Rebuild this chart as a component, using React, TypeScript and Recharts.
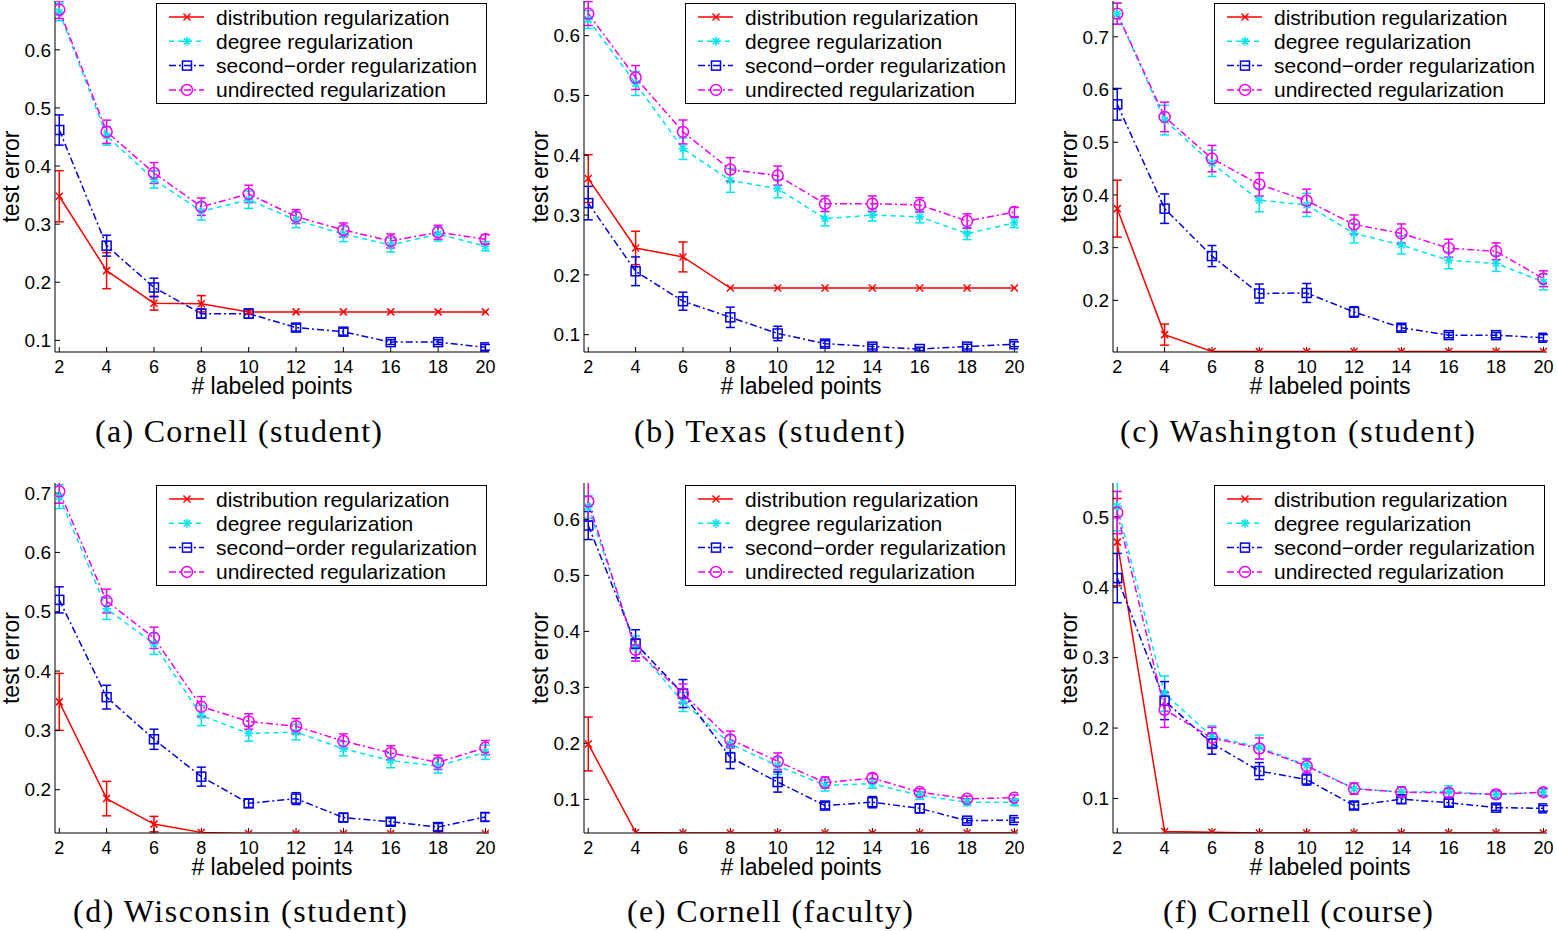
import { ErrorBar, Line, LineChart, XAxis, YAxis } from "recharts";

const labeledPoints = [2, 4, 6, 8, 10, 12, 14, 16, 18, 20];
const seriesNames = [
  "distribution regularization",
  "degree regularization",
  "second\u2212order regularization",
  "undirected regularization",
];
const captions = [
  "(a) Cornell (student)",
  "(b) Texas (student)",
  "(c) Washington (student)",
  "(d) Wisconsin (student)",
  "(e) Cornell (faculty)",
  "(f) Cornell (course)",
];

// (a) Cornell (student)
const aDist = [0.348, 0.22, 0.164, 0.163, 0.149, 0.149, 0.149, 0.149, 0.149, 0.149];
const aDistErr = [0.044, 0.031, 0.012, 0.014, 0.004, 0, 0, 0, 0, 0];
const aDeg = [0.665, 0.452, 0.377, 0.322, 0.342, 0.307, 0.283, 0.264, 0.283, 0.262];
const aDegErr = [0.015, 0.016, 0.015, 0.015, 0.015, 0.013, 0.013, 0.012, 0.012, 0.008];
const aSec = [0.462, 0.263, 0.191, 0.146, 0.146, 0.122, 0.115, 0.097, 0.097, 0.088];
const aSecErr = [0.026, 0.018, 0.016, 0.008, 0.008, 0.006, 0.006, 0.004, 0.004, 0.005];
const aUnd = [0.669, 0.459, 0.388, 0.33, 0.352, 0.313, 0.29, 0.271, 0.286, 0.274];
const aUndErr = [0.015, 0.02, 0.018, 0.015, 0.015, 0.012, 0.012, 0.012, 0.012, 0.008];

// (b) Texas (student)
const bDist = [0.361, 0.245, 0.23, 0.178, 0.178, 0.178, 0.178, 0.178, 0.178, 0.178];
const bDistErr = [0.04, 0.028, 0.025, 0, 0, 0, 0, 0, 0, 0];
const bDeg = [0.627, 0.52, 0.411, 0.358, 0.344, 0.294, 0.3, 0.297, 0.269, 0.287];
const bDegErr = [0.015, 0.02, 0.018, 0.02, 0.015, 0.012, 0.01, 0.01, 0.01, 0.008];
const bSec = [0.32, 0.206, 0.156, 0.129, 0.102, 0.085, 0.08, 0.076, 0.08, 0.084];
const bSecErr = [0.028, 0.024, 0.015, 0.017, 0.012, 0.005, 0.004, 0.003, 0.004, 0.004];
const bUnd = [0.637, 0.53, 0.439, 0.376, 0.366, 0.319, 0.319, 0.317, 0.29, 0.305];
const bUndErr = [0.02, 0.02, 0.02, 0.02, 0.016, 0.013, 0.013, 0.012, 0.012, 0.008];

// (c) Washington (student)
const cDist = [0.374, 0.135, 0.103, 0.103, 0.103, 0.103, 0.103, 0.103, 0.103, 0.103];
const cDistErr = [0.054, 0.02, 0, 0, 0, 0, 0, 0, 0, 0];
const cDeg = [0.744, 0.542, 0.46, 0.39, 0.381, 0.327, 0.305, 0.276, 0.27, 0.235];
const cDegErr = [0.02, 0.028, 0.025, 0.022, 0.022, 0.018, 0.017, 0.016, 0.015, 0.015];
const cSec = [0.572, 0.374, 0.284, 0.213, 0.214, 0.178, 0.148, 0.134, 0.134, 0.129];
const cSecErr = [0.03, 0.028, 0.02, 0.018, 0.018, 0.01, 0.006, 0.005, 0.005, 0.006];
const cUnd = [0.744, 0.548, 0.469, 0.42, 0.389, 0.344, 0.327, 0.299, 0.293, 0.241];
const cUndErr = [0.02, 0.028, 0.025, 0.022, 0.022, 0.018, 0.018, 0.017, 0.016, 0.015];

// (d) Wisconsin (student)
const dDist = [0.348, 0.185, 0.142, 0.128, 0.126, 0.126, 0.126, 0.126, 0.126, 0.126];
const dDistErr = [0.048, 0.029, 0.013, 0, 0, 0, 0, 0, 0, 0];
const dDeg = [0.694, 0.505, 0.446, 0.325, 0.295, 0.297, 0.269, 0.249, 0.24, 0.263];
const dDegErr = [0.02, 0.018, 0.018, 0.017, 0.013, 0.013, 0.012, 0.012, 0.012, 0.012];
const dSec = [0.52, 0.356, 0.285, 0.222, 0.177, 0.185, 0.153, 0.146, 0.137, 0.154];
const dSecErr = [0.022, 0.02, 0.017, 0.016, 0.007, 0.01, 0.007, 0.006, 0.006, 0.007];
const dUnd = [0.703, 0.518, 0.456, 0.34, 0.315, 0.307, 0.282, 0.262, 0.246, 0.271];
const dUndErr = [0.02, 0.02, 0.018, 0.017, 0.013, 0.013, 0.012, 0.012, 0.012, 0.012];

// (e) Cornell (faculty)
const eDist = [0.199, 0.041, 0.04, 0.04, 0.04, 0.04, 0.04, 0.04, 0.04, 0.04];
const eDistErr = [0.048, 0, 0, 0, 0, 0, 0, 0, 0, 0];
const eDeg = [0.622, 0.372, 0.274, 0.199, 0.16, 0.125, 0.128, 0.107, 0.095, 0.095];
const eDegErr = [0.02, 0.02, 0.017, 0.015, 0.015, 0.01, 0.008, 0.007, 0.006, 0.006];
const eSec = [0.589, 0.378, 0.289, 0.175, 0.131, 0.089, 0.095, 0.084, 0.062, 0.063];
const eSecErr = [0.025, 0.025, 0.025, 0.02, 0.018, 0.006, 0.01, 0.008, 0.004, 0.004];
const eUnd = [0.632, 0.367, 0.289, 0.207, 0.168, 0.13, 0.138, 0.113, 0.101, 0.103];
const eUndErr = [0.035, 0.02, 0.017, 0.015, 0.015, 0.01, 0.008, 0.006, 0.005, 0.005];

// (f) Cornell (course)
const fDist = [0.464, 0.053, 0.052, 0.051, 0.051, 0.051, 0.051, 0.051, 0.051, 0.051];
const fDistErr = [0.062, 0, 0, 0, 0, 0, 0, 0, 0, 0];
const fDeg = [0.515, 0.249, 0.188, 0.173, 0.147, 0.114, 0.109, 0.11, 0.105, 0.109];
const fDegErr = [0.035, 0.025, 0.015, 0.017, 0.01, 0.008, 0.008, 0.008, 0.005, 0.005];
const fSec = [0.413, 0.239, 0.178, 0.139, 0.127, 0.09, 0.099, 0.094, 0.087, 0.086];
const fSecErr = [0.035, 0.027, 0.015, 0.012, 0.008, 0.005, 0.006, 0.005, 0.004, 0.004];
const fUnd = [0.506, 0.226, 0.186, 0.171, 0.146, 0.114, 0.109, 0.108, 0.106, 0.109];
const fUndErr = [0.03, 0.025, 0.015, 0.015, 0.01, 0.008, 0.007, 0.006, 0.005, 0.005];

const FONT = '"Liberation Sans", Arial, Helvetica, sans-serif';
const SERIF = '"Liberation Serif", "Times New Roman", serif';
const X_DOMAIN = [1.82, 20.15];

const series = [
  { key: "dist", kind: "x", color: "#ff0000", dash: undefined },
  { key: "deg", kind: "star", color: "#00e4ec", dash: "5 4" },
  { key: "sec", kind: "square", color: "#0000e6", dash: "7 3 2 3" },
  { key: "und", kind: "circle", color: "#f000f0", dash: "7 3 2 3" },
];

function makeRows(vals: number[][]) {
  const [dist, distErr, deg, degErr, sec, secErr, und, undErr] = vals;
  return labeledPoints.map((x, i) => ({
    x,
    dist: dist[i],
    distErr: distErr[i],
    deg: deg[i],
    degErr: degErr[i],
    sec: sec[i],
    secErr: secErr[i],
    und: und[i],
    undErr: undErr[i],
  }));
}

function Marker({ kind, x, y, color }: { kind: string; x: number; y: number; color: string }) {
  if (kind === "x") {
    const h = 3.5;
    return (
      <g stroke={color} strokeWidth={1.5}>
        <line x1={x - h} y1={y - h} x2={x + h} y2={y + h} />
        <line x1={x - h} y1={y + h} x2={x + h} y2={y - h} />
      </g>
    );
  }
  if (kind === "star") {
    const h = 4.5;
    const d = 3.2;
    return (
      <g stroke={color} strokeWidth={1.5}>
        <line x1={x - h} y1={y} x2={x + h} y2={y} />
        <line x1={x} y1={y - h} x2={x} y2={y + h} />
        <line x1={x - d} y1={y - d} x2={x + d} y2={y + d} />
        <line x1={x - d} y1={y + d} x2={x + d} y2={y - d} />
      </g>
    );
  }
  if (kind === "square") {
    return <rect x={x - 4.5} y={y - 4.5} width={9} height={9} fill="none" stroke={color} strokeWidth={1.5} />;
  }
  return <circle cx={x} cy={y} r={5.5} fill="none" stroke={color} strokeWidth={1.5} />;
}

const renderDot = (kind: string, color: string) => (props: any) => {
  const { cx, cy, index } = props;
  if (cx == null || cy == null) return <g key={index} />;
  return (
    <g key={index}>
      <Marker kind={kind} x={cx} y={cy} color={color} />
    </g>
  );
};

function LegendBox({ left, top }: { left: number; top: number }) {
  return (
    <svg width={331} height={101} style={{ position: "absolute", left, top, overflow: "visible" }}>
      <rect x={0.5} y={0.5} width={330} height={100} fill="#fff" stroke="#000" strokeWidth={1} />
      {series.map((s, i) => {
        const y = 14 + i * 24.3;
        return (
          <g key={s.key}>
            <line x1={13} y1={y} x2={48} y2={y} stroke={s.color} strokeWidth={1.5} strokeDasharray={s.dash} />
            <Marker kind={s.kind} x={31} y={y} color={s.color} />
            <text x={60} y={y + 7.5} fontSize={21} fontFamily={FONT} fill="#000">
              {seriesNames[i]}
            </text>
          </g>
        );
      })}
    </svg>
  );
}

interface PanelProps {
  plotLeft: number;
  plotTop: number;
  plotH: number;
  rows: any[];
  yDomain: number[];
  yTicks: number[];
}

function Panel({ plotLeft, plotTop, plotH, rows, yDomain, yTicks }: PanelProps) {
  const tickStyle = { fontSize: 18, fill: "#000", fontFamily: FONT };
  return (
    <div style={{ position: "absolute", left: plotLeft - 55, top: plotTop, width: 499, height: plotH + 50 }}>
      <LineChart width={499} height={plotH + 50} data={rows} margin={{ top: 0, right: 10, bottom: 0, left: 0 }}>
        <XAxis
          dataKey="x"
          type="number"
          domain={X_DOMAIN}
          ticks={labeledPoints}
          interval={0}
          allowDataOverflow
          height={50}
          tickSize={-5}
          tickMargin={13}
          stroke="#000"
          tick={tickStyle}
          label={{ value: "# labeled points", position: "insideBottom", offset: 8, fontSize: 23, fill: "#000", fontFamily: FONT }}
        />
        <XAxis
          xAxisId="top"
          orientation="top"
          type="number"
          domain={X_DOMAIN}
          ticks={labeledPoints}
          interval={0}
          allowDataOverflow
          height={0}
          tickSize={-5}
          tick={false}
          stroke="#000"
        />
        <YAxis
          type="number"
          domain={yDomain}
          ticks={yTicks}
          interval={0}
          allowDataOverflow
          width={55}
          tickSize={-5}
          tickMargin={9}
          stroke="#000"
          tick={{ ...tickStyle, fontSize: 19 }}
          tickFormatter={(v: number) => v.toFixed(1)}
          label={{
            value: "test error",
            angle: -90,
            position: "insideLeft",
            offset: 11,
            fontSize: 23,
            fill: "#000",
            fontFamily: FONT,
            style: { textAnchor: "middle" },
          }}
        />
        <YAxis
          yAxisId="right"
          orientation="right"
          type="number"
          domain={yDomain}
          ticks={yTicks}
          interval={0}
          allowDataOverflow
          width={0}
          tickSize={-5}
          tick={false}
          stroke="#000"
        />
        {series.map((s) => (
          <Line
            key={s.key}
            dataKey={s.key}
            stroke={s.color}
            strokeWidth={1.5}
            strokeDasharray={s.dash}
            dot={renderDot(s.kind, s.color)}
            activeDot={false}
            isAnimationActive={false}
          >
            <ErrorBar dataKey={s.key + "Err"} width={4.5} stroke={s.color} strokeWidth={1.5} direction="y" isAnimationActive={false} />
          </Line>
        ))}
      </LineChart>
      <LegendBox left={55 + 434 - 333} top={2} />
    </div>
  );
}

const panels = [
  { plotLeft: 55, plotTop: 1, plotH: 351, vals: [aDist, aDistErr, aDeg, aDegErr, aSec, aSecErr, aUnd, aUndErr], yDomain: [0.08, 0.684], yTicks: [0.1, 0.2, 0.3, 0.4, 0.5, 0.6] },
  { plotLeft: 584, plotTop: 1, plotH: 351, vals: [bDist, bDistErr, bDeg, bDegErr, bSec, bSecErr, bUnd, bUndErr], yDomain: [0.071, 0.658], yTicks: [0.1, 0.2, 0.3, 0.4, 0.5, 0.6] },
  { plotLeft: 1113, plotTop: 1, plotH: 351, vals: [cDist, cDistErr, cDeg, cDegErr, cSec, cSecErr, cUnd, cUndErr], yDomain: [0.102, 0.768], yTicks: [0.2, 0.3, 0.4, 0.5, 0.6, 0.7] },
  { plotLeft: 55, plotTop: 483, plotH: 350, vals: [dDist, dDistErr, dDeg, dDegErr, dSec, dSecErr, dUnd, dUndErr], yDomain: [0.127, 0.717], yTicks: [0.2, 0.3, 0.4, 0.5, 0.6, 0.7] },
  { plotLeft: 584, plotTop: 483, plotH: 350, vals: [eDist, eDistErr, eDeg, eDegErr, eSec, eSecErr, eUnd, eUndErr], yDomain: [0.04, 0.665], yTicks: [0.1, 0.2, 0.3, 0.4, 0.5, 0.6] },
  { plotLeft: 1113, plotTop: 483, plotH: 350, vals: [fDist, fDistErr, fDeg, fDegErr, fSec, fSecErr, fUnd, fUndErr], yDomain: [0.051, 0.548], yTicks: [0.1, 0.2, 0.3, 0.4, 0.5] },
];

const captionPlaces = [
  { cx: 238.5, y: 442, w: 287 },
  { cx: 769.5, y: 442, w: 271 },
  { cx: 1297.5, y: 442, w: 355 },
  { cx: 240, y: 922, w: 334 },
  { cx: 770, y: 922, w: 286 },
  { cx: 1298, y: 922, w: 270 },
];

export default function App() {
  return (
    <div style={{ position: "absolute", left: 0, top: 0, width: 1557, height: 931, background: "#fff", overflow: "hidden" }}>
      {panels.map((p, i) => (
        <Panel
          key={i}
          plotLeft={p.plotLeft}
          plotTop={p.plotTop}
          plotH={p.plotH}
          rows={makeRows(p.vals)}
          yDomain={p.yDomain}
          yTicks={p.yTicks}
        />
      ))}
      <svg width={1557} height={931} style={{ position: "absolute", left: 0, top: 0, pointerEvents: "none" }}>
        {captionPlaces.map((c, i) => (
          <text
            key={i}
            x={c.cx}
            y={c.y}
            textAnchor="middle"
            textLength={c.w}
            lengthAdjust="spacing"
            fontFamily={SERIF}
            fontSize={32}
            fill="#000"
          >
            {captions[i]}
          </text>
        ))}
      </svg>
    </div>
  );
}
